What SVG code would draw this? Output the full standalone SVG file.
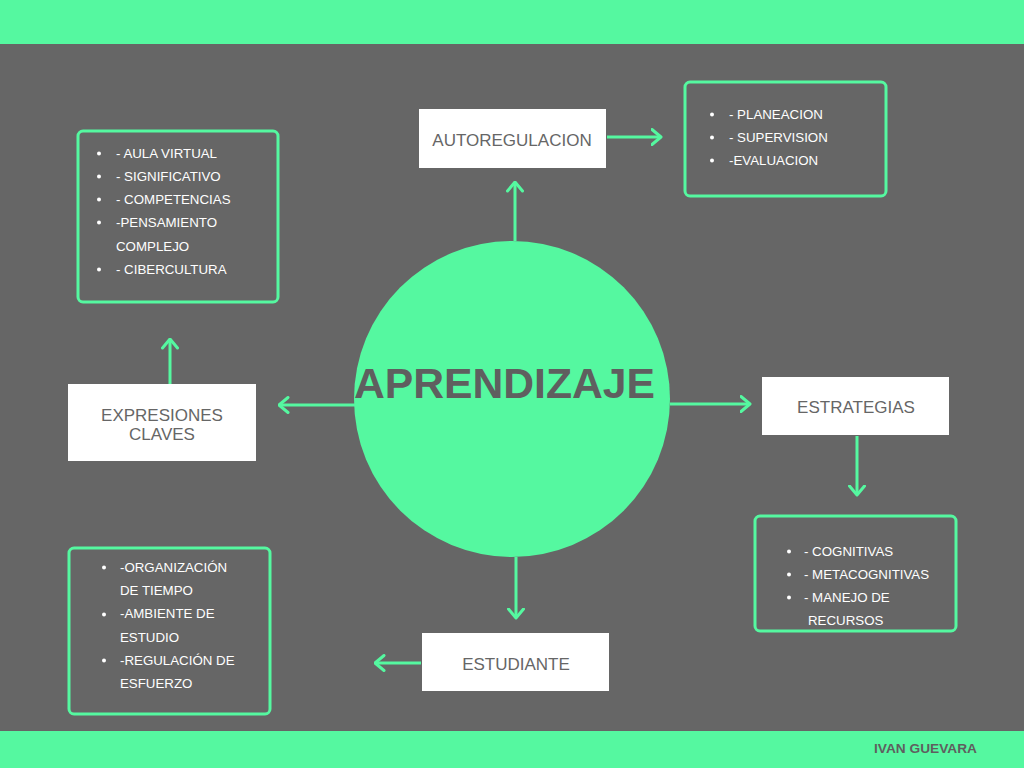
<svg xmlns="http://www.w3.org/2000/svg" width="1024" height="768" viewBox="0 0 1024 768">
<defs>
<style>
.band{fill:#55f8a0}
.list{fill:none;stroke:#55f8a0;stroke-width:3}
.wbox{fill:#ffffff}
.lbl{font-family:"Liberation Sans",Arial,sans-serif;font-size:17px;fill:#666666;text-anchor:middle}
.li{font-family:"Liberation Sans",Arial,sans-serif;font-size:13.3px;fill:#ffffff}
.dot{fill:#ffffff}
.conn{stroke:#55f8a0;stroke-width:3;fill:none;marker-end:url(#ah)}
</style>
<marker id="ah" viewBox="0 0 12 18" refX="10.5" refY="9" markerWidth="12" markerHeight="18" markerUnits="userSpaceOnUse" orient="auto">
<path d="M1.5,1.5 L10.5,9 L1.5,16.5" fill="none" stroke="#55f8a0" stroke-width="3" stroke-linecap="round" stroke-linejoin="round"/>
</marker>
</defs>
<rect x="0" y="0" width="1024" height="768" fill="#666666"/>
<rect class="band" x="0" y="0" width="1024" height="44"/>
<rect class="band" x="0" y="731" width="1024" height="37"/>
<text x="874" y="753" textLength="103" lengthAdjust="spacingAndGlyphs" font-family="'Liberation Sans',Arial,sans-serif" font-size="13.5" font-weight="bold" fill="#5f5f5f">IVAN GUEVARA</text>

<g id="connectors">
<line class="conn" x1="515" y1="241" x2="515" y2="182"/>
<line class="conn" x1="607" y1="137" x2="661" y2="137"/>
<line class="conn" x1="670" y1="404" x2="750" y2="404"/>
<line class="conn" x1="857" y1="436" x2="857" y2="495"/>
<line class="conn" x1="516" y1="557" x2="516" y2="618"/>
<line class="conn" x1="421" y1="663" x2="375" y2="663"/>
<line class="conn" x1="355" y1="405" x2="279" y2="405"/>
<line class="conn" x1="170" y1="384" x2="170" y2="339"/>
</g>

<g id="aprendizaje">
<circle cx="512" cy="399" r="158" fill="#55f8a0"/>
<text x="354" y="398" textLength="301" lengthAdjust="spacingAndGlyphs" font-family="'Liberation Sans',Arial,sans-serif" font-size="43" font-weight="bold" fill="#5f5f5f">APRENDIZAJE</text>
</g>

<g id="autoregulacion">
<rect class="wbox" x="419" y="109" width="187" height="59"/>
<text class="lbl" x="512" y="146">AUTOREGULACION</text>
</g>

<g id="lista-autoregulacion">
<rect class="list" x="685" y="82" width="201" height="114" rx="5"/>
<circle class="dot" cx="712" cy="114.5" r="2"/>
<circle class="dot" cx="712" cy="137.5" r="2"/>
<circle class="dot" cx="712" cy="160.5" r="2"/>
<text class="li" x="729" y="119">- PLANEACION</text>
<text class="li" x="729" y="142">- SUPERVISION</text>
<text class="li" x="729" y="165">-EVALUACION</text>
</g>

<g id="expresiones">
<rect class="wbox" x="68" y="384" width="188" height="77"/>
<text class="lbl" x="162" y="421">EXPRESIONES</text>
<text class="lbl" x="162" y="440">CLAVES</text>
</g>

<g id="lista-expresiones">
<rect class="list" x="78" y="131" width="200" height="171" rx="5"/>
<circle class="dot" cx="99" cy="153.5" r="2"/>
<circle class="dot" cx="99" cy="176.5" r="2"/>
<circle class="dot" cx="99" cy="199.5" r="2"/>
<circle class="dot" cx="99" cy="222.5" r="2"/>
<circle class="dot" cx="99" cy="269.5" r="2"/>
<text class="li" x="116" y="158">- AULA VIRTUAL</text>
<text class="li" x="116" y="181">- SIGNIFICATIVO</text>
<text class="li" x="116" y="204">- COMPETENCIAS</text>
<text class="li" x="116" y="227">-PENSAMIENTO</text>
<text class="li" x="116" y="251">COMPLEJO</text>
<text class="li" x="116" y="274">- CIBERCULTURA</text>
</g>

<g id="estrategias">
<rect class="wbox" x="762" y="377" width="187" height="58"/>
<text class="lbl" x="856" y="413">ESTRATEGIAS</text>
</g>

<g id="lista-estrategias">
<rect class="list" x="755" y="516" width="201" height="115" rx="5"/>
<circle class="dot" cx="789" cy="551.5" r="2"/>
<circle class="dot" cx="789" cy="574.5" r="2"/>
<circle class="dot" cx="789" cy="597.5" r="2"/>
<text class="li" x="804" y="556">- COGNITIVAS</text>
<text class="li" x="804" y="579">- METACOGNITIVAS</text>
<text class="li" x="804" y="602">- MANEJO DE</text>
<text class="li" x="808" y="625">RECURSOS</text>
</g>

<g id="estudiante">
<rect class="wbox" x="422" y="633" width="187" height="58"/>
<text class="lbl" x="516" y="670">ESTUDIANTE</text>
</g>

<g id="lista-estudiante">
<rect class="list" x="69" y="548" width="201" height="166" rx="5"/>
<circle class="dot" cx="104" cy="567.5" r="2"/>
<circle class="dot" cx="104" cy="614.5" r="2"/>
<circle class="dot" cx="104" cy="660.5" r="2"/>
<text class="li" x="120" y="572">-ORGANIZACIÓN</text>
<text class="li" x="120" y="595">DE TIEMPO</text>
<text class="li" x="120" y="618">-AMBIENTE DE</text>
<text class="li" x="120" y="642">ESTUDIO</text>
<text class="li" x="120" y="665">-REGULACIÓN DE</text>
<text class="li" x="120" y="688">ESFUERZO</text>
</g>
</svg>
